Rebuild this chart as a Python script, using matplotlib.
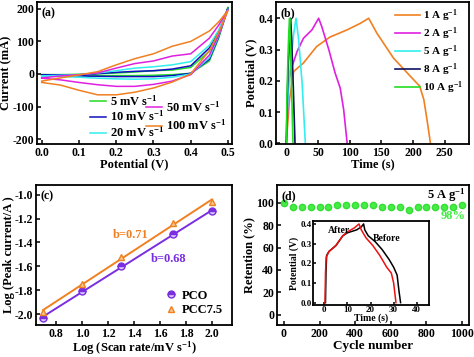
import numpy as np
import matplotlib
matplotlib.use("Agg")
import matplotlib.pyplot as plt

plt.rcParams['font.family'] = ['Liberation Serif', 'DejaVu Serif']
plt.rcParams['font.weight'] = 'bold'
plt.rcParams['axes.labelweight'] = 'bold'
plt.rcParams['mathtext.fontset'] = 'custom'
plt.rcParams['mathtext.rm'] = 'Liberation Serif:bold'
plt.rcParams['mathtext.bf'] = 'Liberation Serif:bold'
plt.rcParams['mathtext.default'] = 'bf'
plt.rcParams['axes.unicode_minus'] = False
plt.rcParams['axes.linewidth'] = 1.3
plt.rcParams['xtick.major.width'] = 1.1
plt.rcParams['ytick.major.width'] = 1.1
plt.rcParams['xtick.major.size'] = 3
plt.rcParams['ytick.major.size'] = 3

# ---------------- (a) CV data ----------------
cv_v = [0.0, 0.05, 0.1, 0.15, 0.2, 0.25, 0.3, 0.35, 0.4, 0.45, 0.475, 0.5]
cv_up = {
    '5':   [-2, -2, -1, 1, 3, 6, 10, 12, 20, 70, 125, 205],
    '10':  [-3, -3, -3, 1, 5, 8, 10, 15, 25, 80, 130, 202],
    '20':  [-6, -4, -2, 3, 10, 18, 22, 28, 38, 88, 135, 200],
    '50':  [-12, -6, -2, 3, 18, 32, 40, 55, 62, 110, 150, 198],
    '100': [-22, -12, -3, 7, 28, 47, 62, 85, 100, 132, 160, 195],
}
cv_down = {
    '5':   [-2, -3, -4, -5, -5, -5, -4, -2, 2, 40, 110, 205],
    '10':  [-3, -5, -6, -7, -8, -8, -8, -5, 2, 45, 115, 202],
    '20':  [-6, -8, -10, -13, -15, -16, -15, -10, 0, 50, 118, 200],
    '50':  [-13, -18, -26, -33, -38, -38, -32, -22, -2, 58, 120, 198],
    '100': [-26, -34, -50, -64, -64, -56, -43, -25, 0, 72, 128, 195],
}
cv_labels = ['5', '10', '20', '50', '100']
cv_colors = ['#22dd22', '#1010c0', '#33eeee', '#e020e0', '#f08020']

# ---------------- (b) GCD data ----------------
gcd_labels = ['1', '2', '5', '8', '10']
gcd_colors = ['#f08020', '#e020e0', '#33eeee', '#101060', '#22dd22']
gcd_t = [
    [0, 1, 5, 11.6, 27, 48, 69, 96, 117, 130, 143, 169, 196, 210.5, 217, 222, 227.5],
    [0, 1, 3.7, 9, 17, 27, 40.5, 51, 56, 67, 77, 85, 90.5, 96],
    [0, 1.5, 3.7, 7.4, 11.6, 15.3, 19.5, 25, 30],
    [0, 1.5, 3, 5, 6.8, 8.5, 11, 13.7],
    [0, 1, 2.5, 4, 5.2, 7, 9, 10.5],
]
gcd_v = [
    [0, 0.03, 0.14, 0.23, 0.257, 0.31, 0.34, 0.363, 0.384, 0.40, 0.352, 0.273, 0.214, 0.183, 0.14, 0.076, 0.0],
    [0, 0.05, 0.204, 0.246, 0.294, 0.336, 0.363, 0.40, 0.373, 0.30, 0.225, 0.177, 0.108, 0.0],
    [0, 0.1, 0.19, 0.267, 0.35, 0.40, 0.33, 0.19, 0.0],
    [0, 0.15, 0.25, 0.33, 0.40, 0.33, 0.18, 0.0],
    [0, 0.15, 0.27, 0.36, 0.40, 0.28, 0.12, 0.0],
]

# ---------------- (c) b-value data ----------------
log_rate = [0.7, 1.0, 1.3, 1.7, 2.0]
pco = [-2.03, -1.81, -1.60, -1.33, -1.14]
pcc = [-1.98, -1.75, -1.52, -1.24, -1.06]

# ---------------- (d) cycling data ----------------
cycles = list(range(0, 1001, 50))
retention = [100, 96, 96, 96, 96, 96, 98, 98, 98, 98, 98, 96, 96, 96, 94, 96, 96, 96, 96, 96, 98]
before_t = [0.5, 0.7, 1.0, 2, 5, 8, 10, 14, 16, 17, 17.5, 19, 22, 25, 28, 30, 31.5, 32.3, 33]
before_v = [0, 0.15, 0.24, 0.26, 0.29, 0.34, 0.355, 0.37, 0.385, 0.40, 0.37, 0.34, 0.31, 0.27, 0.22, 0.18, 0.14, 0.06, 0]
after_t = [0.3, 0.5, 0.8, 2, 5, 8, 10, 13, 15, 16, 18, 21, 24, 27, 29, 30, 31]
after_v = [0, 0.15, 0.23, 0.26, 0.29, 0.34, 0.36, 0.38, 0.40, 0.37, 0.33, 0.29, 0.24, 0.18, 0.15, 0.10, 0]

fig = plt.figure(figsize=(4.74, 3.57), dpi=100)
W, H = 474, 357

def add_ax(l, t, r, b):
    return fig.add_axes([l / W, 1 - b / H, (r - l) / W, (b - t) / H])

def style(ax, size=8.5):
    ax.tick_params(labelsize=size, direction='in', top=False, right=False, pad=2)
    for lab in ax.get_xticklabels() + ax.get_yticklabels():
        lab.set_fontweight('bold')

# (a)
ax = add_ax(37, 2, 232, 144)
lines = []
for k, c in zip(cv_labels, cv_colors):
    xs = cv_v + cv_v[::-1]
    ys = cv_up[k] + cv_down[k][::-1]
    ln, = ax.plot(xs, ys, color=c, lw=1.1, label=k + r' mV s$^{-1}$')
    lines.append(ln)
ax.set_xlim(-0.0126, 0.5107)
ax.set_ylim(-215, 221)
ax.set_xticks([0.0, 0.1, 0.2, 0.3, 0.4, 0.5])
ax.set_yticks([-200, -100, 0, 100, 200])
ax.set_xlabel('Potential (V)', fontsize=9, labelpad=0)
ax.set_ylabel('Current (mA)', fontsize=9, labelpad=0)
ax.text(0.025, 0.965, '(a)', transform=ax.transAxes, fontsize=8.5, va='top')
leg1 = ax.legend(handles=lines[:3], loc='upper left', bbox_to_anchor=(0.27, 0.355),
                 frameon=False, fontsize=9, handlelength=1.3, labelspacing=0.1,
                 handletextpad=0.3, borderpad=0, borderaxespad=0)
ax.add_artist(leg1)
ax.legend(handles=lines[3:], loc='upper left', bbox_to_anchor=(0.56, 0.31),
          frameon=False, fontsize=9, handlelength=1.3, labelspacing=0.3,
          handletextpad=0.3, borderpad=0, borderaxespad=0)
style(ax)

# (b)
ax = add_ax(276, 2, 469, 144)
for k, c, t, v in zip(gcd_labels, gcd_colors, gcd_t, gcd_v):
    ax.plot(t, v, color=c, lw=1.2, label=k + r' A g$^{-1}$')
ax.set_xlim(-16.3, 288.3)
ax.set_ylim(-0.002, 0.452)
ax.set_xticks([0, 50, 100, 150, 200, 250])
ax.set_yticks([0.0, 0.1, 0.2, 0.3, 0.4])
ax.set_xlabel('Time (s)', fontsize=9, labelpad=0)
ax.set_ylabel('Potential (V)', fontsize=9, labelpad=1)
ax.text(0.025, 0.965, '(b)', transform=ax.transAxes, fontsize=8.5, va='top')
ax.legend(loc='upper right', frameon=False, fontsize=8, handlelength=2.2,
          labelspacing=0.12, handletextpad=0.3, borderaxespad=0.3, borderpad=0.2)
style(ax)

# (c)
ax = add_ax(36, 185, 232, 325)
purple = '#7a2ee0'
orange = '#f08020'
xfit = np.array([0.7, 2.0])
p1 = np.polyfit(log_rate, pco, 1)
p2 = np.polyfit(log_rate, pcc, 1)
ax.plot(xfit, np.polyval(p1, xfit), color=purple, lw=1.4)
ax.plot(xfit, np.polyval(p2, xfit), color=orange, lw=1.4)
ax.plot(log_rate, pco, 'o', color=purple, ms=5, fillstyle='top',
        markerfacecoloralt='#d8c8f8', mec=purple, label='PCO')
ax.plot(log_rate, pcc, '^', color=orange, ms=5, mfc='#f8c890', mec=orange, label='PCC7.5')
ax.text(1.24, -1.335, 'b=0.71', color=orange, fontsize=9, va='center')
ax.text(1.53, -1.536, 'b=0.68', color=purple, fontsize=9, va='center')
ax.set_xlim(0.646, 2.154)
ax.set_ylim(-2.09, -0.92)
ax.set_xticks([0.8, 1.0, 1.2, 1.4, 1.6, 1.8, 2.0])
ax.set_yticks([-2.0, -1.8, -1.6, -1.4, -1.2, -1.0])
ax.set_xlabel(r'Log (Scan rate/mV s$^{-1}$)', fontsize=9, labelpad=0)
ax.set_ylabel('Log (Peak current/A )', fontsize=9, labelpad=0)
ax.text(0.025, 0.965, '(c)', transform=ax.transAxes, fontsize=8.5, va='top')
ax.legend(loc='lower right', frameon=False, fontsize=9, handletextpad=0.3,
          labelspacing=0.2, borderaxespad=0.3, handlelength=1.2)
style(ax)

# (d)
ax = add_ax(277, 185, 469, 325)
ax.plot(cycles, retention, 'o', color='#44ee44', ms=4.5, mec='#33dd33')
ax.set_xlim(-39, 1039)
ax.set_ylim(-9.2, 116)
ax.set_xticks([0, 200, 400, 600, 800, 1000])
ax.set_yticks([0, 20, 40, 60, 80, 100])
ax.set_xlabel('Cycle number', fontsize=9.5, labelpad=0)
ax.set_ylabel('Retention (%)', fontsize=9, labelpad=1)
ax.text(0.025, 0.965, '(d)', transform=ax.transAxes, fontsize=8.5, va='top')
ax.text(1020, 107, r'5 A g$^{-1}$', fontsize=9, va='center', ha='right')
ax.text(949, 88, '98%', fontsize=9, va='center', ha='center', color='#44ee44')
style(ax)

ins = add_ax(313, 221, 429, 305)
ins.plot(before_t, before_v, color='black', lw=1.1)
ins.plot(after_t, after_v, color='#ee1010', lw=1.1)
ins.set_xlim(-4.9, 45.3)
ins.set_ylim(-0.012, 0.415)
ins.set_xticks([0, 10, 20, 30, 40])
ins.set_yticks([0.0, 0.1, 0.2, 0.3, 0.4])
ins.set_xlabel('Time (s)', fontsize=7, labelpad=-1)
ins.set_ylabel('Potential (V)', fontsize=7, labelpad=1)
ins.text(1.5, 0.355, 'After', fontsize=7)
ins.text(21, 0.315, 'Before', fontsize=7)
ins.tick_params(labelsize=6.5, length=2, pad=1, direction='in')
for lab in ins.get_xticklabels() + ins.get_yticklabels():
    lab.set_fontweight('bold')

fig.savefig('out.png', dpi=100)
